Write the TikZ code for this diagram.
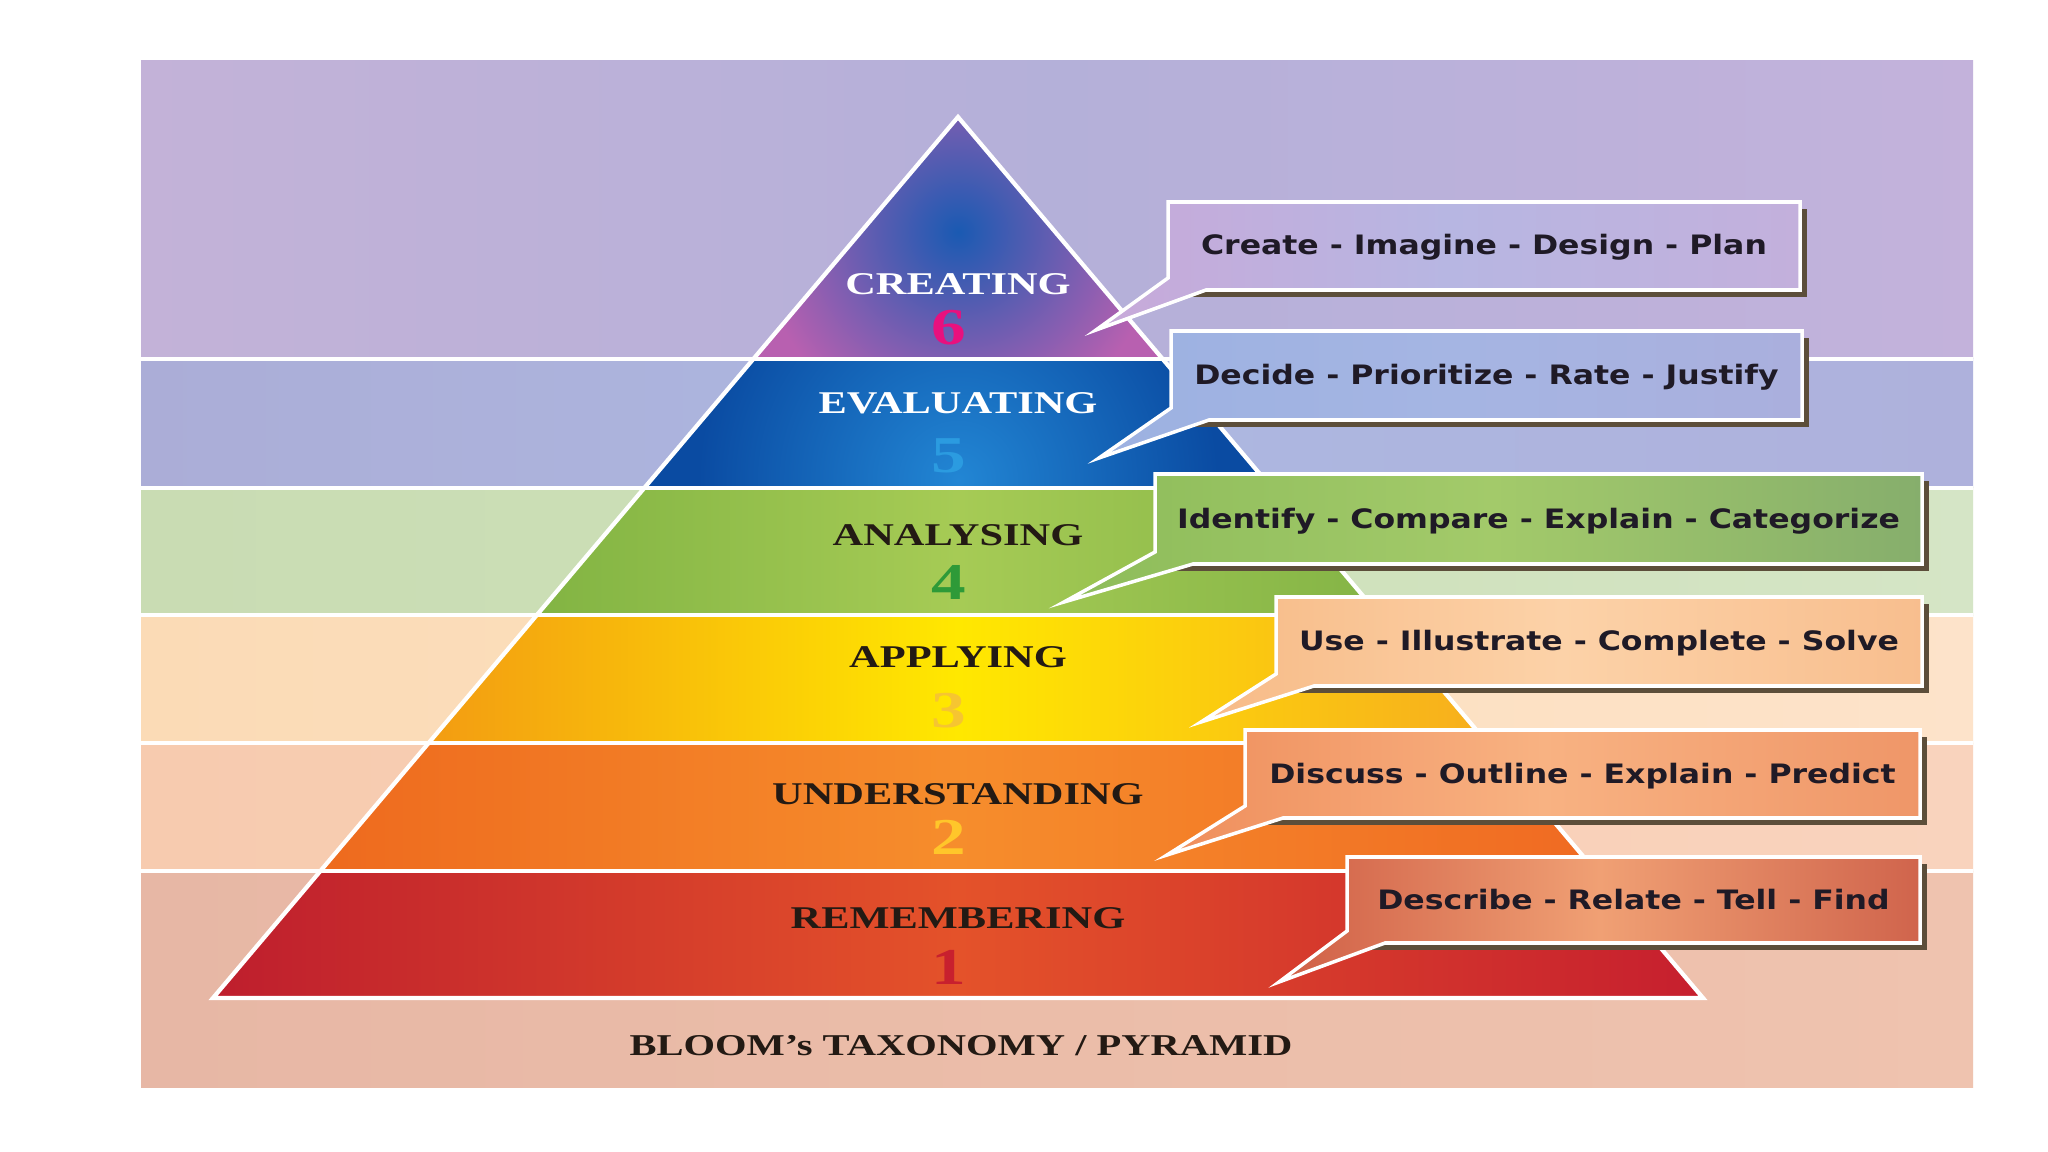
\documentclass[tikz,border=0pt]{standalone}
\usepackage{fontspec}
\usetikzlibrary{calc}
\newfontfamily\tierfont{Liberation Serif}[FakeStretch=1.34]
\newfontfamily\verbfont{DejaVu Sans}[FakeStretch=1.18]

% background bands
\definecolor{bandsixl}{HTML}{C3B2D8}
\definecolor{bandsixm}{HTML}{B4B0D9}
\definecolor{bandsixr}{HTML}{C3B2DB}
\definecolor{bandfivel}{HTML}{ABADD7}
\definecolor{bandfivem}{HTML}{ADB8E1}
\definecolor{bandfiver}{HTML}{AEB1DC}
\definecolor{bandfourl}{HTML}{C9DCB3}
\definecolor{bandfourm}{HTML}{CDE0B8}
\definecolor{bandfourr}{HTML}{D5E5C6}
\definecolor{bandthreel}{HTML}{FBDBB6}
\definecolor{bandthreem}{HTML}{FCDFBE}
\definecolor{bandthreer}{HTML}{FDE3CA}
\definecolor{bandtwol}{HTML}{F7CBAF}
\definecolor{bandtwom}{HTML}{F8CFB5}
\definecolor{bandtwor}{HTML}{F9D3BD}
\definecolor{bandonel}{HTML}{E7B7A5}
\definecolor{bandonem}{HTML}{EBBDA9}
\definecolor{bandoner}{HTML}{EFC3AF}
% pyramid tiers
\definecolor{tiersixin}{HTML}{1A5AB2}
\definecolor{tiersixout}{HTML}{B860B0}
\definecolor{tierfivein}{HTML}{2286D4}
\definecolor{tierfiveout}{HTML}{0A4BA2}
\definecolor{tierfourl}{HTML}{82B443}
\definecolor{tierfourm}{HTML}{A6CB55}
\definecolor{tierfourr}{HTML}{84B446}
\definecolor{tierthreel}{HTML}{F39C12}
\definecolor{tierthreem}{HTML}{FFE800}
\definecolor{tierthreer}{HTML}{F7AE1E}
\definecolor{tiertwol}{HTML}{EE6A1E}
\definecolor{tiertwom}{HTML}{F68D2C}
\definecolor{tiertwor}{HTML}{F06A22}
\definecolor{tieronel}{HTML}{BE1E2D}
\definecolor{tieronem}{HTML}{E4522A}
\definecolor{tieroner}{HTML}{C61F2E}
% callouts
\definecolor{sixboxl}{HTML}{C8A9D9}
\definecolor{sixboxm}{HTML}{B7B6E2}
\definecolor{sixboxr}{HTML}{C3B0DC}
\definecolor{fiveboxl}{HTML}{9CB1E1}
\definecolor{fiveboxm}{HTML}{A5B5E3}
\definecolor{fiveboxr}{HTML}{AAAFDD}
\definecolor{fourboxl}{HTML}{8DBC5A}
\definecolor{fourboxm}{HTML}{A3CA6A}
\definecolor{fourboxr}{HTML}{86AE6C}
\definecolor{threeboxl}{HTML}{F7BA86}
\definecolor{threeboxm}{HTML}{FCD2A8}
\definecolor{threeboxr}{HTML}{F8BE8E}
\definecolor{twoboxl}{HTML}{EF8E5C}
\definecolor{twoboxm}{HTML}{F8B282}
\definecolor{twoboxr}{HTML}{EF9668}
\definecolor{oneboxl}{HTML}{CF5E46}
\definecolor{oneboxm}{HTML}{F0A074}
\definecolor{oneboxr}{HTML}{D0644C}
\definecolor{shadowbrown}{HTML}{5C4E3A}
\definecolor{verbtext}{HTML}{1F1A26}
\definecolor{darklabel}{HTML}{231A14}
\definecolor{numsix}{HTML}{E8107E}
\definecolor{numfive}{HTML}{2B9BE0}
\definecolor{numfour}{HTML}{2E9A38}
\definecolor{numthree}{HTML}{F6C531}
\definecolor{numtwo}{HTML}{FFC62A}
\definecolor{numone}{HTML}{C8202E}

\tikzset{
  sepline/.style={white,line width=1.2pt},
  tier/.style={font=\tierfont\bfseries\fontsize{9}{10}\selectfont,anchor=base,inner sep=0pt},
  tiernum/.style={font=\tierfont\bfseries\fontsize{14.7}{16}\selectfont,anchor=base,inner sep=0pt},
  verbs/.style={font=\verbfont\bfseries\fontsize{7.6}{8}\selectfont,text=verbtext,anchor=base,inner sep=0pt},
  bubble/.style={draw=white,line width=1pt},
  bubbleshadow/.style={fill=shadowbrown}
}

% name, left, top, right, bottom, tip, colours, text
\newcommand{\verbbox}[8]{%
  \fill[bubbleshadow] (#2+7,#3+7) rectangle (#4+7,#5+7);
  \coordinate (#1tip) at #6;
  \shade[bubble,#7] (#2,#3) -- (#4,#3) -- (#4,#5) -- (#2+38,#5) -- (#1tip) -- (#2,#5-12) -- cycle;
  \node[verbs] (#1) at ({(#2+#4)/2},{(#3+#5)/2+9}) {#8};
}

\begin{document}
\begin{tikzpicture}[x=0.01cm,y=-0.01cm]
\useasboundingbox (0,0) rectangle (2048,1152);
\fill[white] (0,0) rectangle (2048,1152);

% bands behind the pyramid
\foreach \ya/\yb/\c in {61/359/six,359/488/five,488/615/four,615/743/three,743/871/two,871/1087/one}
  \shade[left color=band\c l,right color=band\c r,middle color=band\c m] (141,\ya) rectangle (1973,\yb);

\coordinate (apex) at (958,117);
\coordinate (bl) at (213,998);
\coordinate (br) at (1703,998);
\foreach \n/\t in {a/0.2747,b/0.4211,c/0.5653,d/0.7106,e/0.8558}{
  \coordinate (l\n) at ($(apex)!\t!(bl)$);
  \coordinate (r\n) at ($(apex)!\t!(br)$);
}

% tiers
\begin{scope}
  \clip (apex) -- (la) -- (ra) -- cycle;
  \fill[tiersixout] (141,61) rectangle (1973,359);
  \shade[inner color=tiersixin,outer color=tiersixout] (958,232) circle (200);
\end{scope}
\begin{scope}
  \clip (la) -- (lb) -- (rb) -- (ra) -- cycle;
  \fill[tierfiveout] (141,359) rectangle (1973,488);
  \shade[inner color=tierfivein,outer color=tierfiveout] (958,480) circle (260);
\end{scope}
\shade[left color=tierfourl,right color=tierfourr,middle color=tierfourm] (lb) -- (lc) -- (rc) -- (rb) -- cycle;
\shade[left color=tierthreel,right color=tierthreer,middle color=tierthreem] (lc) -- (ld) -- (rd) -- (rc) -- cycle;
\shade[left color=tiertwol,right color=tiertwor,middle color=tiertwom] (ld) -- (le) -- (re) -- (rd) -- cycle;
\shade[left color=tieronel,right color=tieroner,middle color=tieronem] (le) -- (bl) -- (br) -- (re) -- cycle;

\foreach \y in {359,488,615,743,871}
  \draw[sepline] (141,\y) -- (1973,\y);
\draw[sepline] (apex) -- (bl) -- (br) -- cycle;

% tier names
\node[tier,text=white] (creating) at (958,295) {CREATING};
\node[tiernum,text=numsix] (six) at (949,345) {6};
\node[tier,text=white] (evaluating) at (958,414) {EVALUATING};
\node[tiernum,text=numfive] (five) at (949,472) {5};
\node[tier,text=darklabel] (analysing) at (958,545) {ANALYSING};
\node[tiernum,text=numfour] (four) at (949,600) {4};
\node[tier,text=darklabel] (applying) at (958,667) {APPLYING};
\node[tiernum,text=numthree] (three) at (949,727) {3};
\node[tier,text=darklabel] (understanding) at (958,804) {UNDERSTANDING};
\node[tiernum,text=numtwo] (two) at (949,854) {2};
\node[tier,text=darklabel] (remembering) at (958,928) {REMEMBERING};
\node[tiernum,text=numone] (one) at (949,984) {1};

% callouts
\verbbox{vsix}{1168}{202}{1800}{290}{(1096,330)}{left color=sixboxl,right color=sixboxr,middle color=sixboxm}{Create - Imagine - Design - Plan}
\verbbox{vfive}{1171}{331}{1802}{420}{(1099,458)}{left color=fiveboxl,right color=fiveboxr,middle color=fiveboxm}{Decide - Prioritize - Rate - Justify}
\verbbox{vfour}{1155}{474}{1922}{564}{(1064,602)}{left color=fourboxl,right color=fourboxr,middle color=fourboxm}{Identify - Compare - Explain - Categorize}
\verbbox{vthree}{1276}{597}{1922}{686}{(1201,722)}{left color=threeboxl,right color=threeboxr,middle color=threeboxm}{Use - Illustrate - Complete - Solve}
\verbbox{vtwo}{1245}{730}{1920}{818}{(1167,855)}{left color=twoboxl,right color=twoboxr,middle color=twoboxm}{Discuss - Outline - Explain - Predict}
\verbbox{vone}{1347}{857}{1920}{943}{(1279,982)}{left color=oneboxl,right color=oneboxr,middle color=oneboxm}{Describe - Relate - Tell - Find}

\node[tier,text=darklabel,font=\tierfont\bfseries\fontsize{8.6}{10}\selectfont] (title) at (961,1055) {BLOOM’s TAXONOMY / PYRAMID};
\end{tikzpicture}
\end{document}
